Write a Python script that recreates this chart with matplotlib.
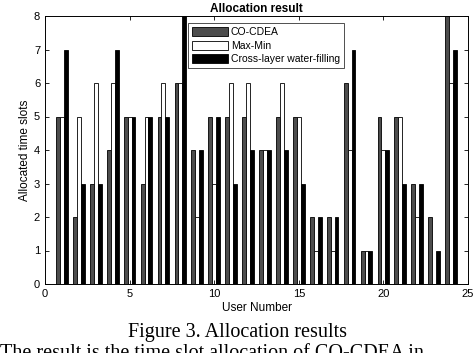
import numpy as np
import matplotlib
matplotlib.use('Agg')
import matplotlib.pyplot as plt

users = np.arange(1, 25)
co_cdea = [5, 2, 3, 4, 5, 3, 5, 6, 4, 5, 5, 5, 4, 5, 5, 2, 2, 6, 1, 5, 5, 3, 2, 8]
max_min = [5, 5, 6, 6, 5, 5, 6, 6, 2, 3, 6, 6, 4, 6, 5, 1, 1, 4, 1, 4, 5, 2, 0, 6]
water_filling = [7, 3, 3, 7, 5, 5, 5, 8, 4, 5, 3, 4, 4, 4, 3, 2, 2, 7, 1, 4, 3, 3, 1, 7]

plt.rcParams['font.family'] = ['Liberation Sans', 'DejaVu Sans']

fig = plt.figure(figsize=(4.74, 3.53), dpi=100)
ax = fig.add_axes([45 / 474, 1 - 284 / 353, 423 / 474, 268 / 353])

w = 0.23
ax.bar(users - w, co_cdea, w, color='#4d4d4d', edgecolor='black', linewidth=0.6, label='CO-CDEA')
ax.bar(users, max_min, w, color='white', edgecolor='black', linewidth=0.6, label='Max-Min')
ax.bar(users + w, water_filling, w, color='black', edgecolor='black', linewidth=0.6,
       label='Cross-layer water-filling')

ax.set_xlim(0, 25)
ax.set_ylim(0, 8)
ax.set_xticks([0, 5, 10, 15, 20, 25])
ax.set_yticks(range(0, 9))
ax.tick_params(direction='in', top=True, right=True, labelsize=8, length=3, width=0.6)
for s in ax.spines.values():
    s.set_linewidth(0.7)

ax.set_title('Allocation result', fontsize=8.5, fontweight='bold', pad=3)
ax.set_xlabel('User Number', fontsize=8.5, labelpad=2)
ax.set_ylabel('Allocated time slots', fontsize=8.5, labelpad=2)

leg = ax.legend(loc='upper left', bbox_to_anchor=((188 - 45) / 423, 1 - 7 / 268),
                fontsize=7.5, frameon=True, fancybox=False, edgecolor='black',
                handlelength=3.4, handleheight=1.0, handletextpad=0.3,
                labelspacing=0.3, borderpad=0.4, borderaxespad=0)
leg.get_frame().set_linewidth(0.6)

fig.text(0.5, 1 - 332 / 353, 'Figure 3. Allocation results', ha='center', va='center',
         fontsize=14.5, family='Liberation Serif')
fig.text(0.0, 1 - 358 / 353, 'The result is the time slot allocation of CO-CDEA in',
         ha='left', va='baseline', fontsize=14.5, family='Liberation Serif')

fig.savefig('out.png', dpi=100)
